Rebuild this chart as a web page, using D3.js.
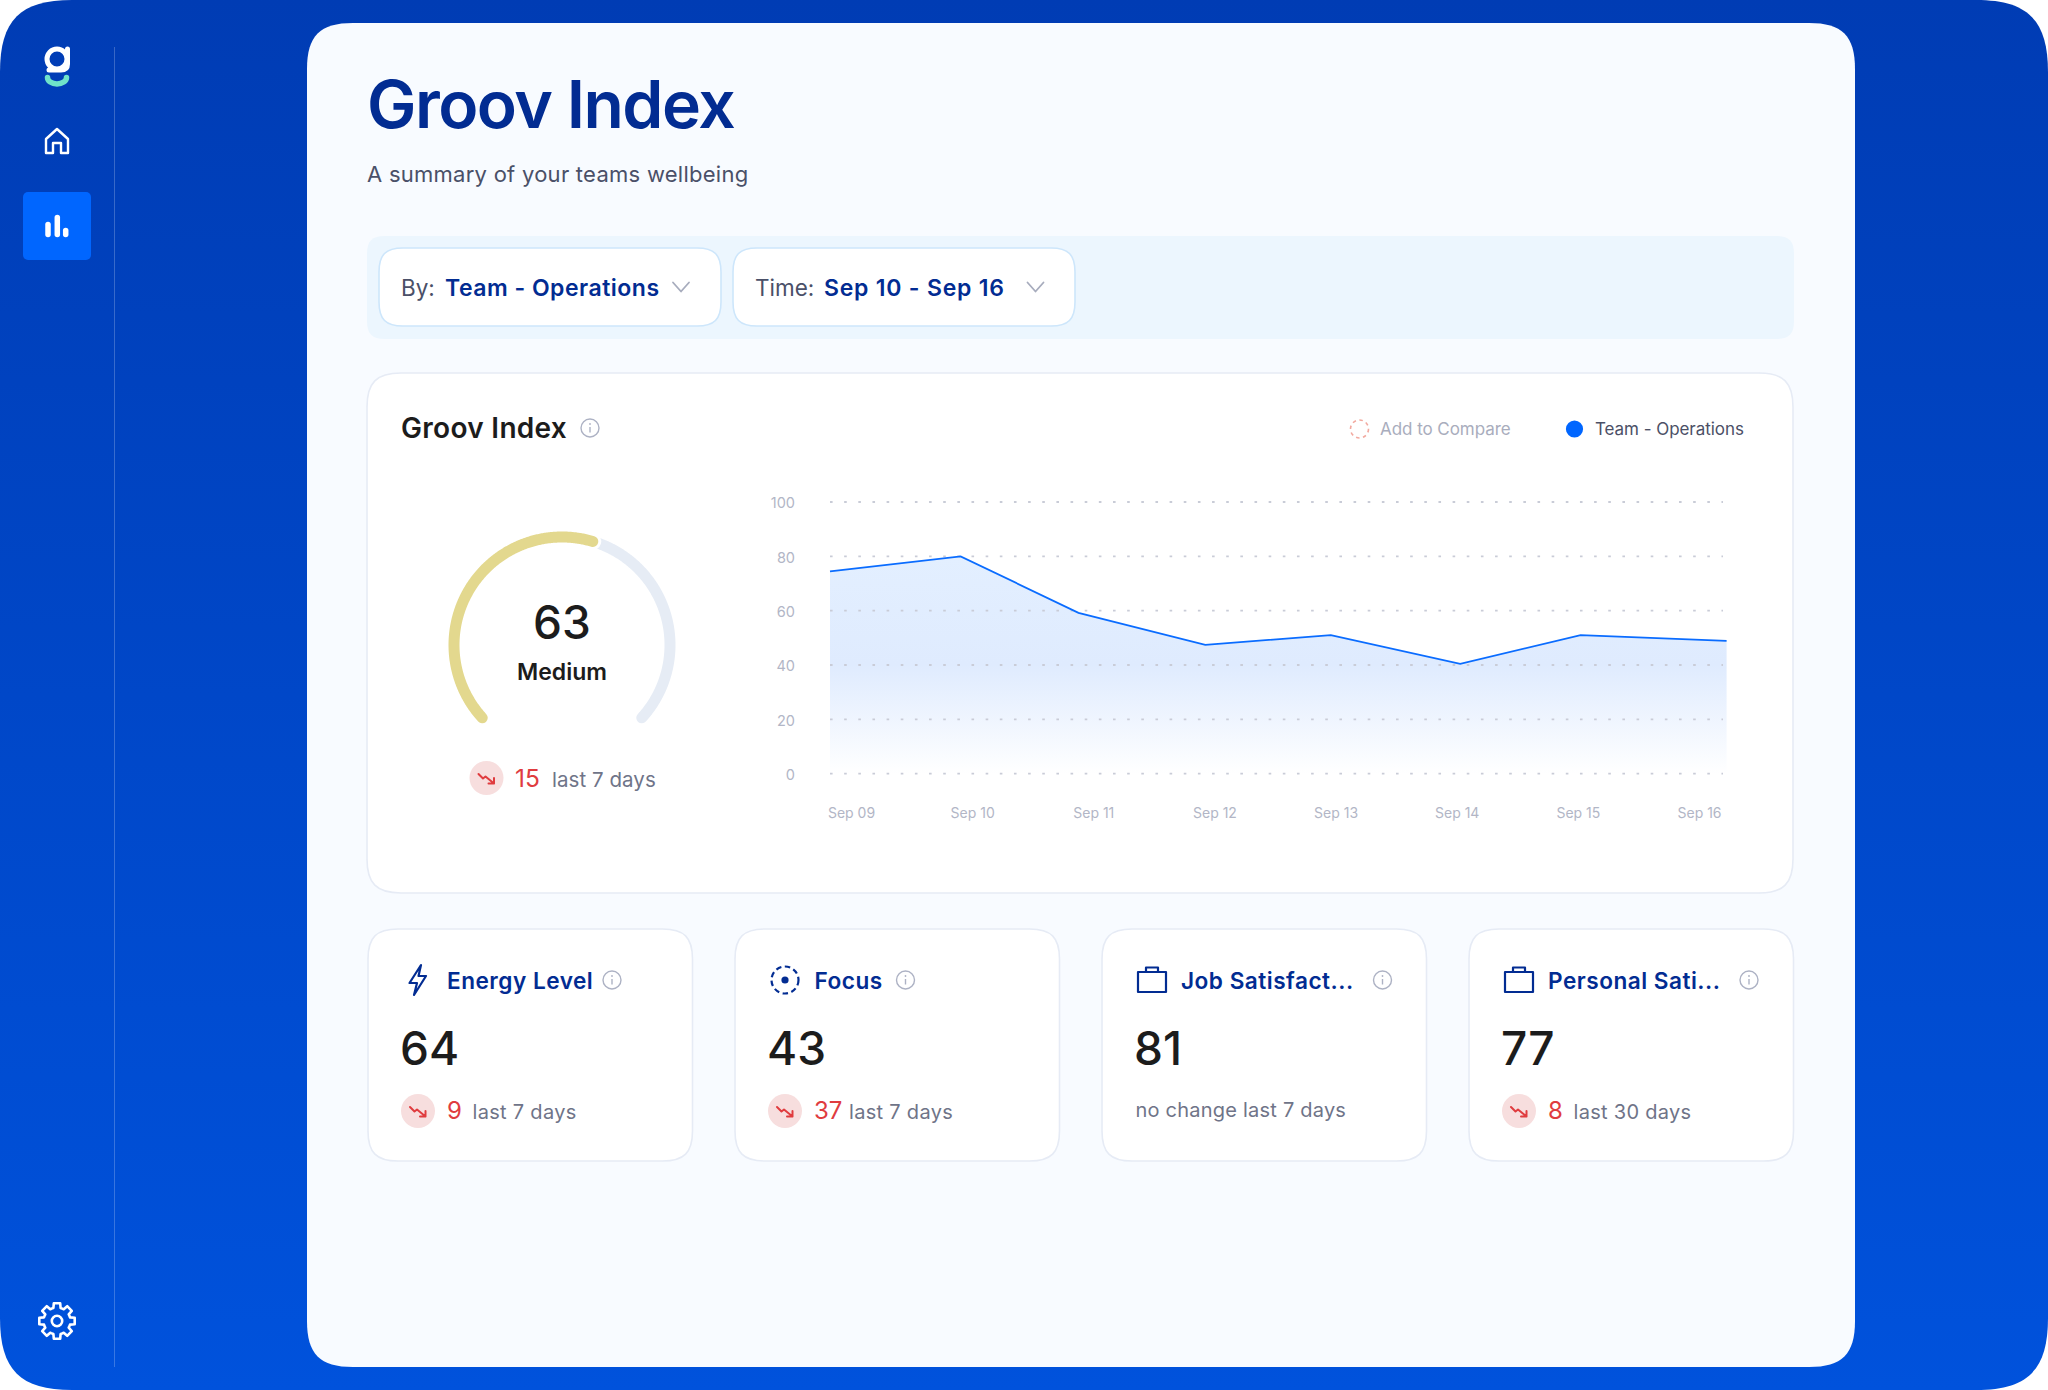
<!DOCTYPE html>
<html><head><meta charset="utf-8"><title>Groov Index</title>
<script src="https://cdnjs.cloudflare.com/ajax/libs/d3/7.8.5/d3.min.js"></script>
<style>html,body{margin:0;padding:0;background:#fff}svg{display:block}text{font-family:Inter,"Open Sans",sans-serif}</style>
</head><body><div id="chart"></div>
<script>
const days = ["Sep 09","Sep 10","Sep 11","Sep 12","Sep 13","Sep 14","Sep 15","Sep 16"];
const dayOffsets = [0,1.02,1.94,2.93,3.91,4.92,5.86,7];
const groovValues = [74.5,80,59.2,47.4,51,40.4,51,48.9];
const yTicks = [0,20,40,60,80,100];
const gaugeValue = 63, gaugeLabel = "Medium", gaugeDelta = 15, gaugePeriod = "last 7 days";
const metricNames = ["Energy Level","Focus","Job Satisfact...","Personal Sati..."];
const metricValues = [64,43,81,77];
const metricDeltas = [9,37,null,8];
const metricPeriods = ["last 7 days","last 7 days","no change last 7 days","last 30 days"];

const W=2048,H=1390;
const navy="#022c92", ink="#1c1c1c", red="#e03c3f", muted="#6f7488", faint="#b2b6c6", blue="#0066ff";
const svg=d3.select("#chart").append("svg").attr("width",W).attr("height",H).attr("viewBox",`0 0 ${W} ${H}`);
const defs=svg.append("defs");
const bg=defs.append("linearGradient").attr("id","bg").attr("x1",0).attr("y1",0).attr("x2",0).attr("y2",1);
bg.append("stop").attr("offset",0).attr("stop-color","#003cb4");
bg.append("stop").attr("offset",1).attr("stop-color","#0052dc");

function sq(x,y,w,h,r){const c=r*0.28,R=x+w,B=y+h;
 return `M${x+r},${y}H${R-r}C${R-c},${y} ${R},${y+c} ${R},${y+r}V${B-r}C${R},${B-c} ${R-c},${B} ${R-r},${B}H${x+r}C${x+c},${B} ${x},${B-c} ${x},${B-r}V${y+r}C${x},${y+c} ${x+c},${y} ${x+r},${y}Z`;}
function box(x,y,w,h,r,fill,stroke,sw){return svg.append("path").attr("d",sq(x,y,w,h,r)).attr("fill",fill).attr("stroke",stroke||"none").attr("stroke-width",sw||0);}
function txt(parent,x,y,s,size,fill,weight,opt){opt=opt||{};return parent.append("text").attr("x",x).attr("y",y).text(s).attr("font-size",size).attr("fill",fill).attr("font-weight",weight||400).attr("text-anchor",opt.anchor||"start").attr("letter-spacing",opt.ls||0);}
function icon(x,y,d,stroke,sw,fill){return svg.append("path").attr("transform",`translate(${x},${y})`).attr("d",d).attr("fill",fill||"none").attr("stroke",stroke).attr("stroke-width",sw).attr("stroke-linecap","round").attr("stroke-linejoin","round");}

// frame
box(0,0,W,H,72,"url(#bg)");
svg.append("line").attr("x1",114.5).attr("x2",114.5).attr("y1",47).attr("y2",1367).attr("stroke","#ffffff").attr("stroke-opacity",0.22).attr("stroke-width",1);
box(307,23,1548,1344,46,"#f8fbff");

// sidebar icons
icon(57,59,"M-10,0a10,10 0 1,0 20,0a10,10 0 1,0 -20,0M10.5,-10V5Q10.5,11 4,11H-8","#fff",5);
icon(57,77,"M-9.5,0.5a9.5,6.5 0 0,0 19,0","#6fe3c9",5.5);
icon(57,141,"M-11,12V-2L0,-12L11,-2V12H4V2H-4V12Z","#fff",2.4);
svg.append("rect").attr("x",23).attr("y",192).attr("width",68).attr("height",68).attr("rx",5).attr("fill",blue);
[[48,222,237],[57.3,215,237],[65.7,228,237]].forEach(b=>svg.append("line").attr("x1",b[0]).attr("x2",b[0]).attr("y1",b[1]+2.5).attr("y2",b[2]-2.5).attr("stroke","#fff").attr("stroke-width",5.5).attr("stroke-linecap","round"));
(function(){const g=svg.append("g").attr("transform","translate(57,1321)");
 const n=8,ro=18,ri=13.5;let d="";
 for(let i=0;i<n;i++){const a=i*2*Math.PI/n-Math.PI/2,s=0.24,t=0.27;
  const p=(r,an)=>[r*Math.cos(an),r*Math.sin(an)];
  const pts=[p(ri,a-2*Math.PI/n/2+0.0+0.06),p(ri,a-t),p(ro,a-s*0.75),p(ro,a+s*0.75),p(ri,a+t)];
  pts.forEach((q,j)=>{d+=(i===0&&j===0?"M":"L")+q[0].toFixed(1)+","+q[1].toFixed(1);});}
 d+="Z";
 g.append("path").attr("d",d).attr("fill","none").attr("stroke","#fff").attr("stroke-width",2.6).attr("stroke-linejoin","round");
 g.append("circle").attr("r",5.2).attr("fill","none").attr("stroke","#fff").attr("stroke-width",2.6);})();

// header
txt(svg,367,128,"Groov Index",66,navy,600,{ls:-1.5});
txt(svg,367,182,"A summary of your teams wellbeing",22,"#4a5068",400,{ls:0.26});

// filters
box(367,236,1427,103,18,"#ecf6fe");
box(379,248,342,78,24,"#fff","#cde6fb",1.6);
box(733,248,342,78,24,"#fff","#cde6fb",1.6);
txt(svg,401,296,"By:",22.5,"#4a5068");
txt(svg,445,296,"Team - Operations",23,navy,600,{ls:0.5});
icon(681,287.5,"M-8,-5L0,4L8,-5","#a7acbd",1.8);
txt(svg,755,296,"Time:",22.5,"#4a5068");
txt(svg,824,296,"Sep 10 - Sep 16",23,navy,600,{ls:0.78});
icon(1035.5,287.5,"M-8,-5L0,4L8,-5","#a7acbd",1.8);

// main card
box(367,373,1426,520,34,"#fff","#e6ebf5",1.6);
txt(svg,401,438,"Groov Index",28,ink,600,{ls:0.3});
function info(x,y){const g=svg.append("g").attr("transform",`translate(${x},${y})`);
 g.append("circle").attr("r",9).attr("fill","none").attr("stroke","#adb2c4").attr("stroke-width",1.4);
 g.append("line").attr("y1",-1).attr("y2",4.5).attr("stroke","#adb2c4").attr("stroke-width",1.4);
 g.append("circle").attr("cy",-4).attr("r",0.9).attr("fill","#adb2c4");}
info(590,428);

// legend
svg.append("circle").attr("cx",1359.5).attr("cy",429).attr("r",9).attr("fill","none").attr("stroke","#f2a99f").attr("stroke-width",1.6).attr("stroke-dasharray","3.5 3.5");
txt(svg,1380,435,"Add to Compare",17,"#a9adbd",400,{ls:-0.05});
svg.append("circle").attr("cx",1574.5).attr("cy",429).attr("r",8.6).attr("fill",blue);
txt(svg,1595,435,"Team - Operations",17,"#4b5066",400,{ls:-0.05});

// gauge
const gaugeAngle=d3.scaleLinear().domain([0,112]).range([-132.4,132.4]);
const rad=a=>a*Math.PI/180;
const gauge=svg.append("g").attr("transform","translate(562,645)");
const arcLine=d3.lineRadial().angle(d=>rad(d)).radius(108);
const sweep=(a,b)=>d3.range(a,b,0.5).concat([b]);
function gaugeArc(a,b,color,w){return gauge.append("path").attr("d",arcLine(sweep(a,b))).attr("fill","none").attr("stroke",color).attr("stroke-width",w).attr("stroke-linecap","round");}
gaugeArc(gaugeAngle(gaugeValue),gaugeAngle(112),"#e6ecf5",11);
gaugeArc(gaugeAngle(gaugeValue)-6,gaugeAngle(gaugeValue),"#fff",17);
gaugeArc(gaugeAngle(0),gaugeAngle(gaugeValue),"#e3d88e",11);
txt(svg,562,639,gaugeValue,46,ink,500,{anchor:"middle"});
txt(svg,562,680,gaugeLabel,23,ink,600,{anchor:"middle"});
function trend(cx,cy){svg.append("circle").attr("cx",cx).attr("cy",cy).attr("r",17).attr("fill","#f7dede");
 icon(cx,cy,"M-8,-4L-3.5,0.5L-1,-1.5L7.5,5.5M7.5,0V5.5H2",red,2);}
trend(486.5,778);
txt(svg,515,787,gaugeDelta,24.5,red,400);
txt(svg,552,787,gaugePeriod,20.5,muted,400,{ls:0.05});

// line chart
const x=d3.scaleLinear().domain([0,7]).range([830,1726.6]);
const y=d3.scaleLinear().domain([0,100]).range([773.7,502]);
const labelX=d3.scalePoint().domain(days).range([851,1699]);
const fade=defs.append("linearGradient").attr("id","fade").attr("gradientUnits","userSpaceOnUse").attr("x1",0).attr("x2",0).attr("y1",y(80)).attr("y2",y(0));
fade.append("stop").attr("offset",0).attr("stop-color","#e3efff");
fade.append("stop").attr("offset",0.5).attr("stop-color","#dfebfe");
fade.append("stop").attr("offset",1).attr("stop-color","#dfebfe").attr("stop-opacity",0);
const pts=groovValues.map((v,i)=>[dayOffsets[i],v]);
svg.append("path").attr("d",d3.area().x(d=>x(d[0])).y0(y(0)).y1(d=>y(d[1]))(pts)).attr("fill","url(#fade)");
const yAxis=d3.axisLeft(y).tickValues(yTicks).tickSize(0).tickPadding(0);
const yG=svg.append("g").attr("transform","translate(795,0)").call(yAxis);
yG.select(".domain").remove();
yG.selectAll("text").attr("font-size",14.5).attr("fill",faint).attr("font-family","Inter").attr("dy","0.4em");
svg.append("g").selectAll("line").data(yTicks).join("line").attr("x1",830).attr("x2",1723).attr("y1",d=>y(d)).attr("y2",d=>y(d)).attr("stroke","#c9ccd7").attr("stroke-width",1.8).attr("stroke-dasharray","2.6 11.55");
svg.append("path").attr("d",d3.line().x(d=>x(d[0])).y(d=>y(d[1]))(pts)).attr("fill","none").attr("stroke","#0a6cff").attr("stroke-width",1.8);
const xAxis=d3.axisBottom(labelX).tickSize(0).tickPadding(0);
const xG=svg.append("g").attr("transform","translate(0,805)").call(xAxis);
xG.select(".domain").remove();
xG.selectAll("text").attr("font-size",14).attr("fill",faint).attr("font-family","Inter").attr("dy","0.95em");

// metric cards
const cardX=[368,735,1102,1469];
const titleDx=[79,79.5,79,79], infoDx=[244,170.5,280.5,280];
metricNames.forEach((name,i)=>{
 const cx=cardX[i];
 box(cx,929,324.5,232,30,"#fff","#e6ebf5",1.6);
 txt(svg,cx+titleDx[i],988.5,name,22.6,navy,600,{ls:0.5});
 info(cx+infoDx[i],980);
 txt(svg,cx+32,1065,metricValues[i],46,ink,500);
 if(metricDeltas[i]===null){
  txt(svg,cx+33.5,1117,metricPeriods[i],20,muted,400,{ls:0.22});
 } else {
  trend(cx+50,1111);
  txt(svg,cx+79,1119,metricDeltas[i],24,red,400);
  txt(svg,cx+(metricDeltas[i]>9?114:104.5),1119,metricPeriods[i],20,muted,400,{ls:0.3});
 }
});
icon(418,980,"M3,-15L-8.5,3H-1L-4,15L8,-4H0.5Z",navy,2.2);
svg.append("circle").attr("cx",785).attr("cy",980).attr("r",13.5).attr("fill","none").attr("stroke",navy).attr("stroke-width",2.2).attr("stroke-dasharray","5.5 3.5");
svg.append("circle").attr("cx",785).attr("cy",980).attr("r",3.6).attr("fill",navy);
[1152,1519].forEach(c=>{icon(c,980,"M-14,-8H14V12H-14ZM-6,-8V-12.5H6V-8",navy,2.2);});
</script></body></html>
